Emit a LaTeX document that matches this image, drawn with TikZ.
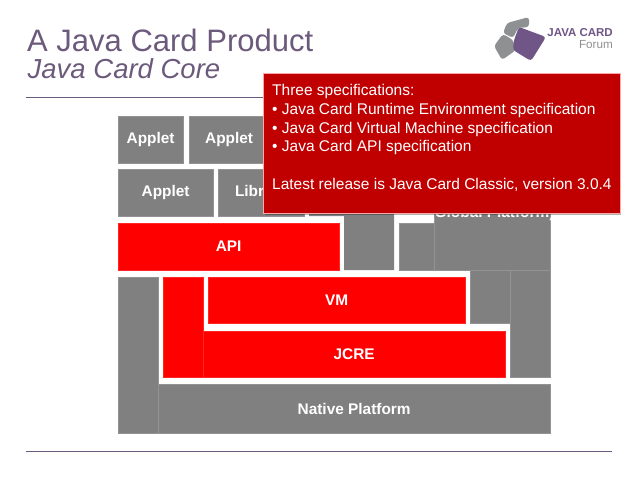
\documentclass[tikz,border=0pt]{standalone}
\usepackage{fontspec}
\setmainfont{Liberation Sans}
\usepackage{xcolor}
\usetikzlibrary{shadows}

\definecolor{titlepurple}{HTML}{6C5A7C}
\definecolor{logopurple}{HTML}{6F5687}
\definecolor{logogray}{HTML}{8F9092}
\definecolor{boxgray}{HTML}{808080}
\definecolor{boxred}{HTML}{FF0000}
\definecolor{popupred}{HTML}{C00000}

\begin{document}
\begin{tikzpicture}[
  x=1pt, y=-1pt,
  graybox/.style={
    draw=boxgray!85!white,
    line width=0.3pt,
    fill=boxgray,
    anchor=north west,
    inner sep=0pt,
    text=white,
    font=\fontsize{15.4}{18}\selectfont\bfseries
  },
  redbox/.style={
    graybox,
    draw=boxred!85!white,
    fill=boxred
  },
  titletext/.style={anchor=base west, inner sep=0pt, text=titlepurple},
  rule/.style={draw=titlepurple, line width=0.7pt},
  logoshape/.style={rounded corners=3pt}
]
\useasboundingbox (0,0) rectangle (638,479);

\node[titletext, font=\fontsize{31}{36}\selectfont] (title) at (27,52) {A Java Card Product};
\node[titletext, font=\fontsize{27.5}{32}\selectfont\itshape] (subtitle) at (27.5,78) {Java Card Core};

\coordinate (ruleTopL) at (26,97.5);
\coordinate (ruleTopR) at (612,97.5);
\coordinate (ruleBotL) at (26,451.5);
\coordinate (ruleBotR) at (612,451.5);
\draw[rule] (ruleTopL) -- (ruleTopR);
\draw[rule] (ruleBotL) -- (ruleBotR);

% logo
\fill[logogray, logoshape] (507,23) -- (529,17) -- (529,27) -- (518,28) -- (513,38) -- (503,33) -- cycle;
\fill[logogray, logoshape] (503,34) -- (513,40) -- (516,50) -- (502,60) -- (494,46) -- cycle;
\fill[logopurple, logoshape] (519,27) -- (546,37) -- (531,61) -- (513,50) -- (514,40) -- cycle;
\node[anchor=base east, inner sep=0pt, text=logopurple, font=\fontsize{11.5}{13}\selectfont\bfseries] (logoA) at (613,36) {JAVA CARD};
\node[anchor=base east, inner sep=0pt, text=logogray, font=\fontsize{11.7}{13}\selectfont] (logoB) at (613,48) {Forum};

% top layer
\node[graybox, minimum width=65pt, minimum height=47pt] (applet1) at (118,116) {Applet};
\node[graybox, minimum width=81pt, minimum height=47pt] (applet2) at (188.5,116) {Applet};
\node[graybox, minimum width=95pt, minimum height=47pt] (applet3) at (118,169) {Applet};
\node[graybox, minimum width=86pt, minimum height=47pt] (library) at (218,169) {Library};

\fill[boxgray] (309,169) -- (394,169) -- (394,270) -- (344,270) -- (344,216) -- (309,216) -- cycle;
\node[graybox, minimum width=35pt, minimum height=47pt] (small) at (399,223) {};
\node[graybox, minimum width=116pt, minimum height=101pt] (global) at (434,169) {};
\node[anchor=center, inner sep=0pt, text=white, font=\fontsize{15.4}{18}\selectfont\bfseries] (globalText) at (492,213.5) {(Global Platform)};

% middle layer
\node[redbox, minimum width=221pt, minimum height=47pt] (api) at (118,223) {API};
\node[redbox, minimum width=40pt, minimum height=100pt] (redleft) at (163,277) {};
\node[redbox, minimum width=257pt, minimum height=46pt] (vm) at (208,277) {VM};
\node[redbox, minimum width=302pt, minimum height=46.5pt] (jcre) at (203,330.5) {JCRE};

% bottom layer
\node[graybox, minimum width=40pt, minimum height=156pt] (pillar) at (118,277) {};
\node[graybox, minimum width=392pt, minimum height=49pt] (native) at (158,384) {Native Platform};
\node[graybox, minimum width=40pt, minimum height=53pt] (right1) at (470,270) {};
\node[graybox, minimum width=40pt, minimum height=107pt] (right2) at (510,270) {};

% popup on top
\node[draw=boxred!35!white, line width=0.6pt, fill=popupred, anchor=north west, inner sep=0pt,
  minimum width=356.5pt, minimum height=140pt,
  drop shadow={shadow xshift=1.5pt, shadow yshift=-1.5pt, opacity=0.3, fill=black}] (popup) at (263,73) {};
\node[anchor=north west, inner sep=0pt, align=left, text=white,
  font=\fontsize{15.5}{18.7}\selectfont] (popupText) at (272,84.2) {Three specifications:\\
• Java Card Runtime Environment specification\\
• Java Card Virtual Machine specification\\
• Java Card API specification\\[18.7pt]
Latest release is Java Card Classic, version 3.0.4};
\end{tikzpicture}
\end{document}
